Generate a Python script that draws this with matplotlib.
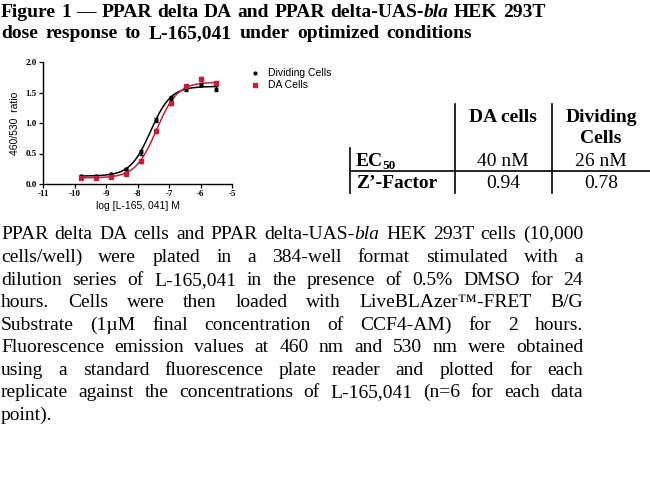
import numpy as np
import matplotlib
matplotlib.use("Agg")
import matplotlib.pyplot as plt
from matplotlib.lines import Line2D

# ---- data ----
log_conc = [-9.79, -9.32, -8.84, -8.36, -7.89, -7.41, -6.93, -6.45, -5.98, -5.50]
dividing = [0.13, 0.13, 0.16, 0.25, 0.52, 1.05, 1.41, 1.55, 1.63, 1.56]
dividing_err = [0.02, 0.02, 0.02, 0.02, 0.04, 0.04, 0.03, 0.03, 0.03, 0.04]
da_cells = [0.10, 0.10, 0.12, 0.17, 0.37, 0.87, 1.32, 1.61, 1.72, 1.65]
da_err = [0.02, 0.02, 0.02, 0.02, 0.03, 0.03, 0.03, 0.02, 0.03, 0.03]

# 4-parameter fit values (bottom, top, logEC50, hill)
fit_dividing = (0.13, 1.60, -7.585, 1.35)
fit_da = (0.10, 1.67, -7.398, 1.30)

x_ticks = [-11, -10, -9, -8, -7, -6, -5]
y_ticks = [0.0, 0.5, 1.0, 1.5, 2.0]

table_cols = ["DA cells", "Dividing\nCells"]
ec50_vals = ["40 nM", "26 nM"]
zfactor_vals = ["0.94", "0.78"]

title_lines = [
    "Figure 1 \u2014 PPAR delta DA and PPAR delta-UAS-*bla* HEK 293T",
    "dose response to L-165,041 under optimized conditions",
]
body_lines = [
    "PPAR delta DA cells and PPAR delta-UAS-*bla* HEK 293T cells (10,000",
    "cells/well) were plated in a 384-well format stimulated with a",
    "dilution series of L-165,041 in the presence of 0.5% DMSO for 24",
    "hours. Cells were then loaded with LiveBLAzer\u2122-FRET B/G",
    "Substrate (1\u00b5M final concentration of CCF4-AM) for 2 hours.",
    "Fluorescence emission values at 460 nm and 530 nm were obtained",
    "using a standard fluorescence plate reader and plotted for each",
    "replicate against the concentrations of L-165,041 (n=6 for each data",
    "point).",
]

W, H = 650, 488
RED = "#c41e3a"
SERIF = "Liberation Serif"
SANS = "Liberation Sans"

fig = plt.figure(figsize=(W / 100, H / 100), dpi=100)
renderer = fig.canvas.get_renderer()


def fx(px):
    return px / W


def fy(py):
    return 1 - py / H


def four_pl(x, p):
    bottom, top, logec, hill = p
    return bottom + (top - bottom) / (1 + 10 ** ((logec - x) * hill))


# ---- dose response chart ----
ax = fig.add_axes([fx(43), fy(184), fx(232) - fx(43), fy(62) - fy(184)])
xs = np.linspace(log_conc[0], log_conc[-1], 200)
ax.plot(xs, four_pl(xs, fit_dividing), color="black", lw=1.1)
ax.plot(xs, four_pl(xs, fit_da), color=RED, lw=1.1)
ax.errorbar(log_conc, dividing, yerr=dividing_err, fmt="o", color="black",
            ms=2, capsize=1.5, elinewidth=0.8, label="Dividing Cells")
ax.errorbar(log_conc, da_cells, yerr=da_err, fmt="s", color=RED,
            ms=3.2, capsize=1.5, elinewidth=0.8, label="DA Cells")

ax.set_xlim(-11, -5)
ax.set_ylim(0, 2.0)
ax.set_xticks(x_ticks)
ax.set_xticklabels([str(t) for t in x_ticks])
ax.set_yticks(y_ticks)
ax.set_yticklabels([f"{t:.1f}" for t in y_ticks])
for s in ["top", "right"]:
    ax.spines[s].set_visible(False)
for s in ["left", "bottom"]:
    ax.spines[s].set_linewidth(1.0)
ax.tick_params(direction="out", length=3, width=0.9, pad=1.5)
for lab in ax.get_xticklabels() + ax.get_yticklabels():
    lab.set_fontfamily(SERIF)
    lab.set_fontweight("bold")
    lab.set_fontsize(6.5)
ax.set_xlabel("log [L-165, 041] M", fontfamily=SANS, fontsize=7.5, labelpad=2)
ax.set_ylabel("460/530  ratio", fontfamily=SANS, fontsize=7.5, labelpad=4)

handles = [
    Line2D([], [], ls="none", marker="o", ms=2, color="black"),
    Line2D([], [], ls="none", marker="s", ms=3.2, color=RED),
]
fig.legend(handles, ["Dividing Cells", "DA Cells"], loc="upper left",
           bbox_to_anchor=(fx(244), fy(63)), frameon=False,
           prop={"family": SANS, "size": 7.5}, handlelength=1.2,
           handletextpad=0.6, labelspacing=0.2, borderpad=0)


# ---- justified text helpers ----
def run_width(s, **kw):
    t = fig.text(0, 0, s, **kw)
    w = t.get_window_extent(renderer=renderer).width
    t.remove()
    return w


def split_runs(word):
    parts = word.split("*")
    return [(p, i % 2 == 1) for i, p in enumerate(parts) if p]


def draw_line(line, x0, baseline, right, size, weight="normal", justify=True):
    words = line.split(" ")
    measured = []
    for w in words:
        runs = []
        for txt, ital in split_runs(w):
            kw = dict(fontfamily=SERIF, fontsize=size, fontweight=weight,
                      fontstyle="italic" if ital else "normal")
            runs.append((txt, kw, run_width(txt, **kw)))
        measured.append(runs)
    total = sum(r[2] for runs in measured for r in runs)
    space = run_width("a a", fontfamily=SERIF, fontsize=size, fontweight=weight) - \
        run_width("aa", fontfamily=SERIF, fontsize=size, fontweight=weight)
    if justify and len(words) > 1:
        gap = (right - x0 - total) / (len(words) - 1)
    else:
        gap = space
    x = x0
    for runs in measured:
        for txt, kw, w in runs:
            fig.text(fx(x), fy(baseline), txt, ha="left", va="baseline", **kw)
            x += w
        x += gap


# title
draw_line(title_lines[0], 1, 17, 545, 14, weight="bold")
draw_line(title_lines[1], 1, 38, 472, 14, weight="bold")

# body paragraph
baselines = [239, 262, 285, 307, 330, 352, 375, 397, 420]
for i, (line, b) in enumerate(zip(body_lines, baselines)):
    draw_line(line, 1, b, 583, 14, justify=i < len(body_lines) - 1)

# ---- EC50 / Z'-factor table ----
col_x = [503, 601]
bold = dict(fontfamily=SERIF, fontsize=14, fontweight="bold")
reg = dict(fontfamily=SERIF, fontsize=14)
for cx, head in zip(col_x, table_cols):
    for j, part in enumerate(head.split("\n")):
        fig.text(fx(cx), fy(122 + 21 * j), part, ha="center", va="baseline", **bold)
for cx, v in zip(col_x, ec50_vals):
    fig.text(fx(cx), fy(166), v, ha="center", va="baseline", **reg)
for cx, v in zip(col_x, zfactor_vals):
    fig.text(fx(cx), fy(188), v, ha="center", va="baseline", **reg)

ec_w = run_width("EC", **bold)
fig.text(fx(356), fy(166), "EC", ha="left", va="baseline", **bold)
fig.text(fx(355 + ec_w), fy(169), "50", ha="left", va="baseline",
         fontfamily=SERIF, fontsize=9.5, fontweight="bold")
fig.text(fx(356), fy(188), "Z\u2019-Factor", ha="left", va="baseline", **bold)

for x in [455, 552]:
    fig.add_artist(Line2D([fx(x), fx(x)], [fy(104), fy(193)], color="black", lw=1.2))
fig.add_artist(Line2D([fx(350), fx(350)], [fy(148), fy(193)], color="black", lw=1.2))
fig.add_artist(Line2D([fx(350), fx(650)], [fy(171), fy(171)], color="black", lw=1.2))

fig.savefig("out.png", dpi=100)
